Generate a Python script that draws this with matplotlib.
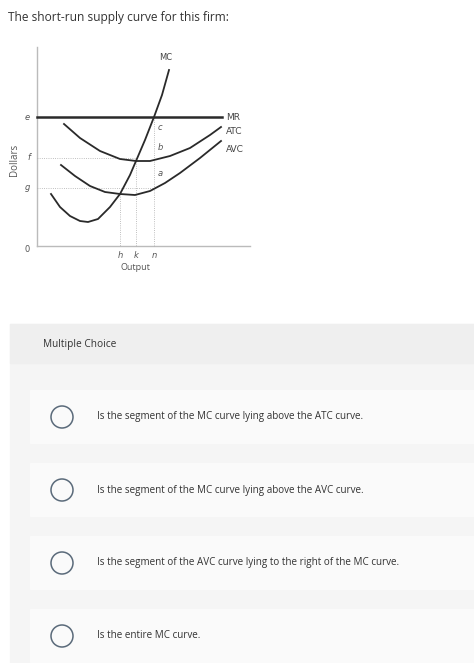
import matplotlib
matplotlib.use("Agg")
import matplotlib.pyplot as plt
from matplotlib.patches import Rectangle, Circle

title = "The short-run supply curve for this firm:"
mc_x = [51, 60, 70, 80, 88, 98, 110, 120, 130, 136, 145, 154, 162, 169]
mc_y = [194, 207, 216, 221, 222, 219, 207, 194, 175, 161, 140, 117, 95, 70]
atc_x = [64, 80, 100, 120, 136, 150, 170, 190, 210, 221]
atc_y = [124, 138, 151, 159, 161, 161, 156, 148, 135, 127]
avc_x = [61, 75, 90, 105, 120, 135, 150, 165, 180, 200, 221]
avc_y = [165, 176, 186, 192, 194, 195, 191, 183, 173, 158, 141]
price_labels = ["e", "f", "g", "0"]
price_y = [117, 158, 188, 250]
qty_labels = ["h", "k", "n"]
qty_x = [120, 136, 154]
options = ["Is the segment of the MC curve lying above the ATC curve.",
           "Is the segment of the MC curve lying above the AVC curve.",
           "Is the segment of the AVC curve lying to the right of the MC curve.",
           "Is the entire MC curve."]

fig = plt.figure(figsize=(4.74, 6.63), dpi=100)
ax = fig.add_axes([0, 0, 1, 1])
ax.set_xlim(0, 474); ax.set_ylim(663, 0); ax.axis("off")
ff = ["Open Sans", "DejaVu Sans"]
ax.text(8, 18, title, fontsize=8.6, color="#333333", va="center", family=ff)

lc = "#2a2a2a"
ax.plot([37, 37], [47, 246], color="#bbbbbb", lw=1)
ax.plot([37, 250], [246, 246], color="#bbbbbb", lw=1)
for lab, y in zip(price_labels, price_y):
    ax.text(30, y, lab, fontsize=6, style="italic" if lab != "0" else "normal",
            ha="right", va="center", color="#555555")
ax.text(15, 160, "Dollars", rotation=90, fontsize=7, ha="center", va="center", color="#555555", family=ff)
ax.text(135, 268, "Output", fontsize=6.5, ha="center", va="center", color="#555555", family=ff)
for lab, x in zip(qty_labels, qty_x):
    ax.text(x, 256, lab, fontsize=6, style="italic", ha="center", va="center", color="#555555")
dot = dict(color="#aaaaaa", lw=0.6, ls=":")
ax.plot([37, 136], [158, 158], **dot)
ax.plot([37, 154], [188, 188], **dot)
ax.plot([120, 120], [194, 246], **dot)
ax.plot([136, 136], [161, 246], **dot)
ax.plot([154, 154], [117, 246], **dot)
ax.plot([37, 222], [117, 117], color=lc, lw=1.8)
ax.plot(mc_x, mc_y, color=lc, lw=1.3, solid_joinstyle="round")
ax.plot(atc_x, atc_y, color=lc, lw=1.3, solid_joinstyle="round")
ax.plot(avc_x, avc_y, color=lc, lw=1.3, solid_joinstyle="round")
ax.text(166, 57, "MC", fontsize=6, ha="center", va="center", color="#444444")
ax.text(226, 117, "MR", fontsize=6.5, va="center", color="#444444")
ax.text(226, 131, "ATC", fontsize=6.5, va="center", color="#444444")
ax.text(226, 149, "AVC", fontsize=6.5, va="center", color="#444444")
for lab, y in zip(["c", "b", "a"], [128, 148, 173]):
    ax.text(160, y, lab, fontsize=6, style="italic", ha="center", va="center", color="#555555")

ax.add_patch(Rectangle((10, 324), 464, 339, color="#f5f5f5", zorder=0))
ax.add_patch(Rectangle((10, 324), 464, 39, color="#efefef", zorder=0))
ax.text(43, 344, "Multiple Choice", fontsize=7.3, va="center", color="#333333", family=ff)
tops = [390, 463, 536, 609]
for t, opt in zip(tops, options):
    ax.add_patch(Rectangle((30, t), 444, 53, color="#fafafa", zorder=0))
    ax.add_patch(Circle((62, t + 27), 11, fill=False, ec="#5a6a7a", lw=1.1))
    ax.text(97, t + 27, opt, fontsize=7.1, va="center", color="#333333", family=ff)

fig.savefig("out.png", dpi=100)
